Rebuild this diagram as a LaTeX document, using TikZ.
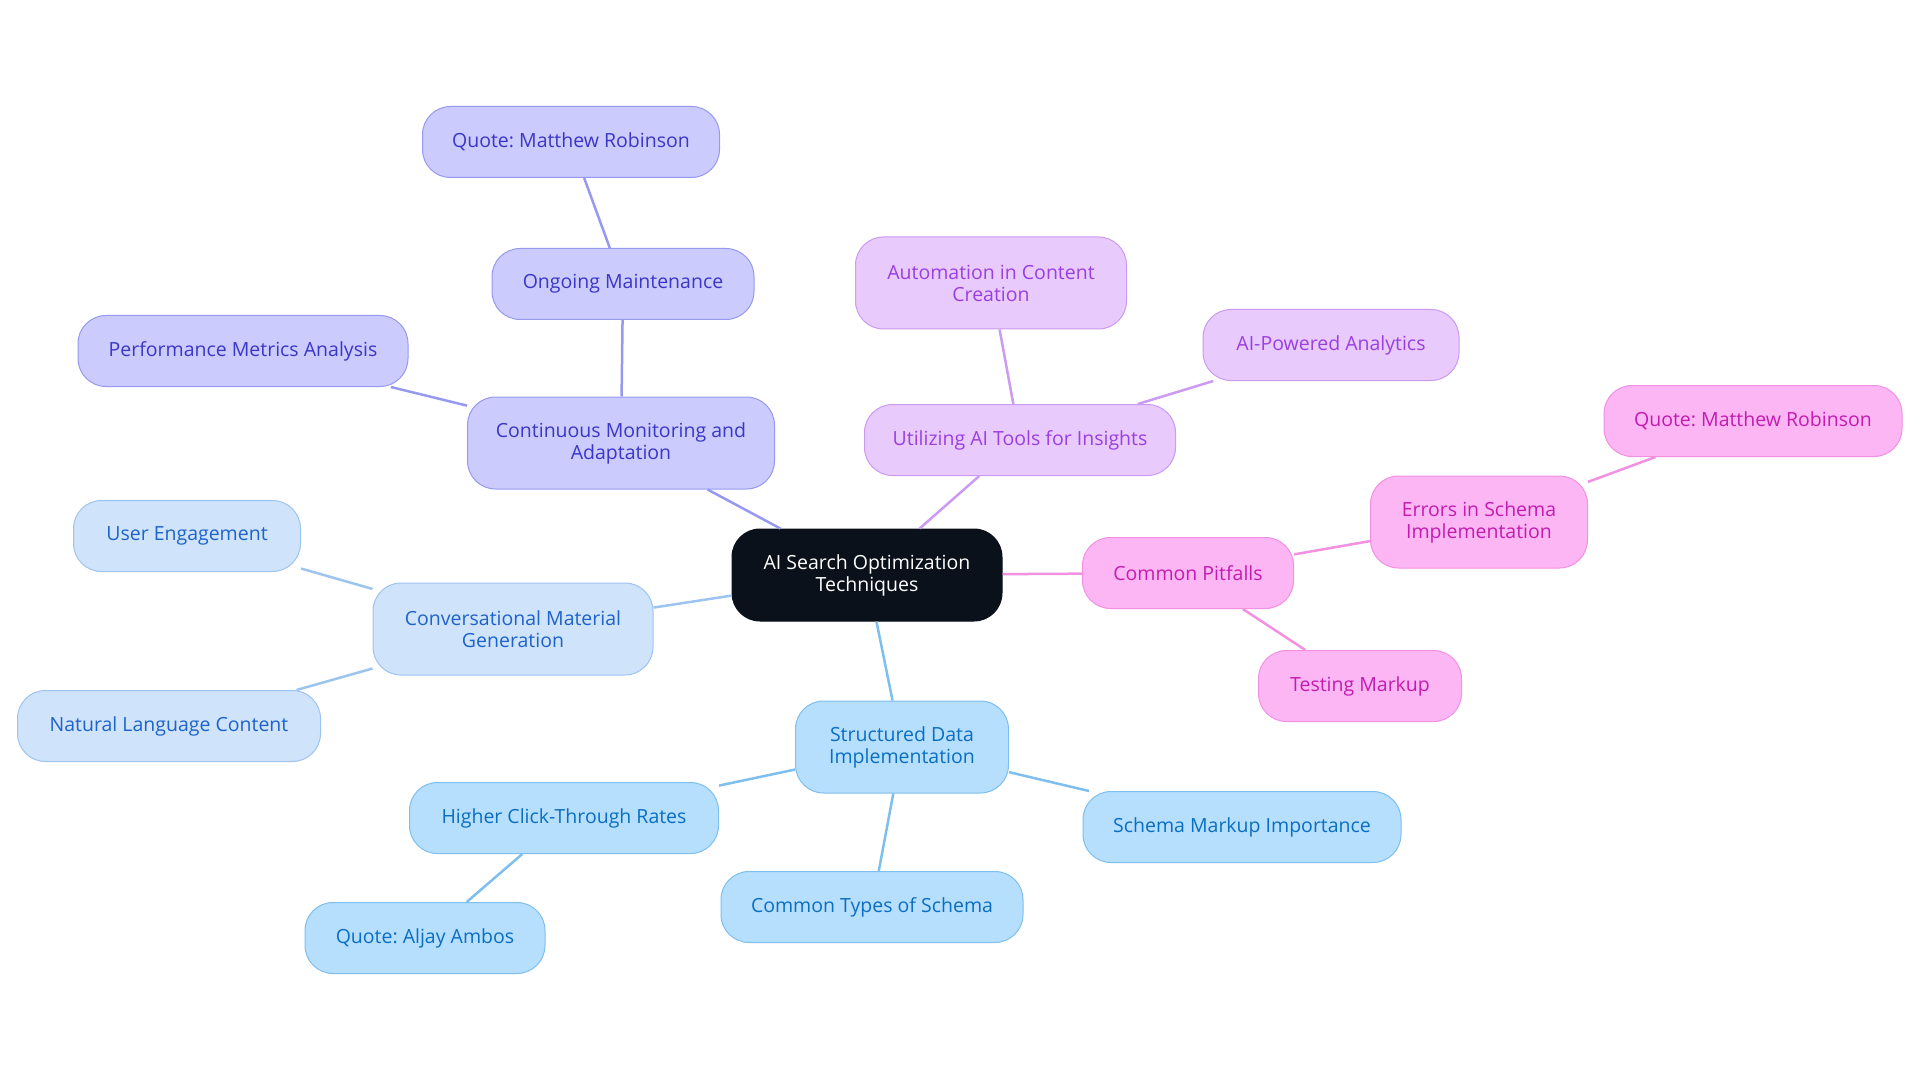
\documentclass[tikz,border=0pt]{standalone}
\usepackage{fontspec}
\setmainfont{Open Sans}
\frenchspacing
\usetikzlibrary{positioning}
\tikzset{every picture/.style={line width=1pt}}
\definecolor{root-fill}{HTML}{0B111A}
\definecolor{mon-fill}{HTML}{CBCBFD}
\definecolor{mon-line}{HTML}{9799F0}
\definecolor{mon-text}{HTML}{3B37C6}
\definecolor{ai-fill}{HTML}{E8CAFD}
\definecolor{ai-line}{HTML}{CB9AF2}
\definecolor{ai-text}{HTML}{9A3FE0}
\definecolor{pit-fill}{HTML}{FDB6F4}
\definecolor{pit-line}{HTML}{F290E1}
\definecolor{pit-text}{HTML}{C21CB0}
\definecolor{conv-fill}{HTML}{CFE3FB}
\definecolor{conv-line}{HTML}{9DC4EF}
\definecolor{conv-text}{HTML}{1E63C9}
\definecolor{sd-fill}{HTML}{B6DEFD}
\definecolor{sd-line}{HTML}{7EBFEE}
\definecolor{sd-text}{HTML}{0A6FC2}

\begin{document}
\begin{tikzpicture}
    [x=1pt, y=-1pt,
    box/.style = {rectangle, draw, align=center, line width=1pt,
            rounded corners=28pt, minimum height=71pt,
            font=\fontsize{19.5}{22}\selectfont},
    root/.style = {box, fill=root-fill, draw=root-fill, text=white, minimum height=92pt},
    mon/.style = {box, fill=mon-fill, draw=mon-line, text=mon-text},
    ai/.style = {box, fill=ai-fill, draw=ai-line, text=ai-text},
    pit/.style = {box, fill=pit-fill, draw=pit-line, text=pit-text},
    conv/.style = {box, fill=conv-fill, draw=conv-line, text=conv-text},
    sd/.style = {box, fill=sd-fill, draw=sd-line, text=sd-text},
    link/.style = {line width=2.5pt},
    ]

    \useasboundingbox (0,0) rectangle (1920,1083);

	\node[root, minimum width=270pt] (root) at (867, 575) {AI Search Optimization\\Techniques};

	\node[mon, minimum width=307pt, minimum height=92pt] (cma) at (621, 443) {Continuous Monitoring and\\Adaptation};
	\node[mon, minimum width=262pt] (om) at (623, 284) {Ongoing Maintenance};
	\node[mon, minimum width=297pt] (q1) at (571, 142) {Quote: Matthew Robinson};
	\node[mon, minimum width=330pt] (pma) at (243, 351) {Performance Metrics Analysis};

	\node[ai, minimum width=271pt, minimum height=92pt] (acc) at (991, 283) {Automation in Content\\Creation};
	\node[ai, minimum width=311pt] (uai) at (1020, 440) {Utilizing AI Tools for Insights};
	\node[ai, minimum width=256pt] (apa) at (1331, 345) {AI-Powered Analytics};

	\node[pit, minimum width=211pt] (cp) at (1188, 573) {Common Pitfalls};
	\node[pit, minimum width=217pt, minimum height=92pt] (esi) at (1479, 522) {Errors in Schema\\Implementation};
	\node[pit, minimum width=298pt] (q2) at (1753, 421) {Quote: Matthew Robinson};
	\node[pit, minimum width=203pt] (tm) at (1360, 686) {Testing Markup};

	\node[conv, minimum width=280pt, minimum height=92pt] (cmg) at (513, 629) {Conversational Material\\Generation};
	\node[conv, minimum width=227pt] (ue) at (187, 536) {User Engagement};
	\node[conv, minimum width=303pt] (nlc) at (169, 726) {Natural Language Content};

	\node[sd, minimum width=213pt, minimum height=92pt] (sdi) at (902, 747) {Structured Data\\Implementation};
	\node[sd, minimum width=309pt] (hctr) at (564, 818) {Higher Click-Through Rates};
	\node[sd, minimum width=240pt] (qaa) at (425, 938) {Quote: Aljay Ambos};
	\node[sd, minimum width=302pt] (cts) at (872, 907) {Common Types of Schema};
	\node[sd, minimum width=318pt] (smi) at (1242, 827) {Schema Markup Importance};

    \draw[link, mon-line] (root) -- (cma);
    \draw[link, mon-line] (cma) -- (om);
    \draw[link, mon-line] (om) -- (q1);
    \draw[link, mon-line] (cma) -- (pma);

    \draw[link, ai-line] (root) -- (uai);
    \draw[link, ai-line] (uai) -- (acc);
    \draw[link, ai-line] (uai) -- (apa);

    \draw[link, pit-line] (root) -- (cp);
    \draw[link, pit-line] (cp) -- (esi);
    \draw[link, pit-line] (esi) -- (q2);
    \draw[link, pit-line] (cp) -- (tm);

    \draw[link, conv-line] (root) -- (cmg);
    \draw[link, conv-line] (cmg) -- (ue);
    \draw[link, conv-line] (cmg) -- (nlc);

    \draw[link, sd-line] (root) -- (sdi);
    \draw[link, sd-line] (sdi) -- (hctr);
    \draw[link, sd-line] (hctr) -- (qaa);
    \draw[link, sd-line] (sdi) -- (cts);
    \draw[link, sd-line] (sdi) -- (smi);
\end{tikzpicture}
\end{document}
